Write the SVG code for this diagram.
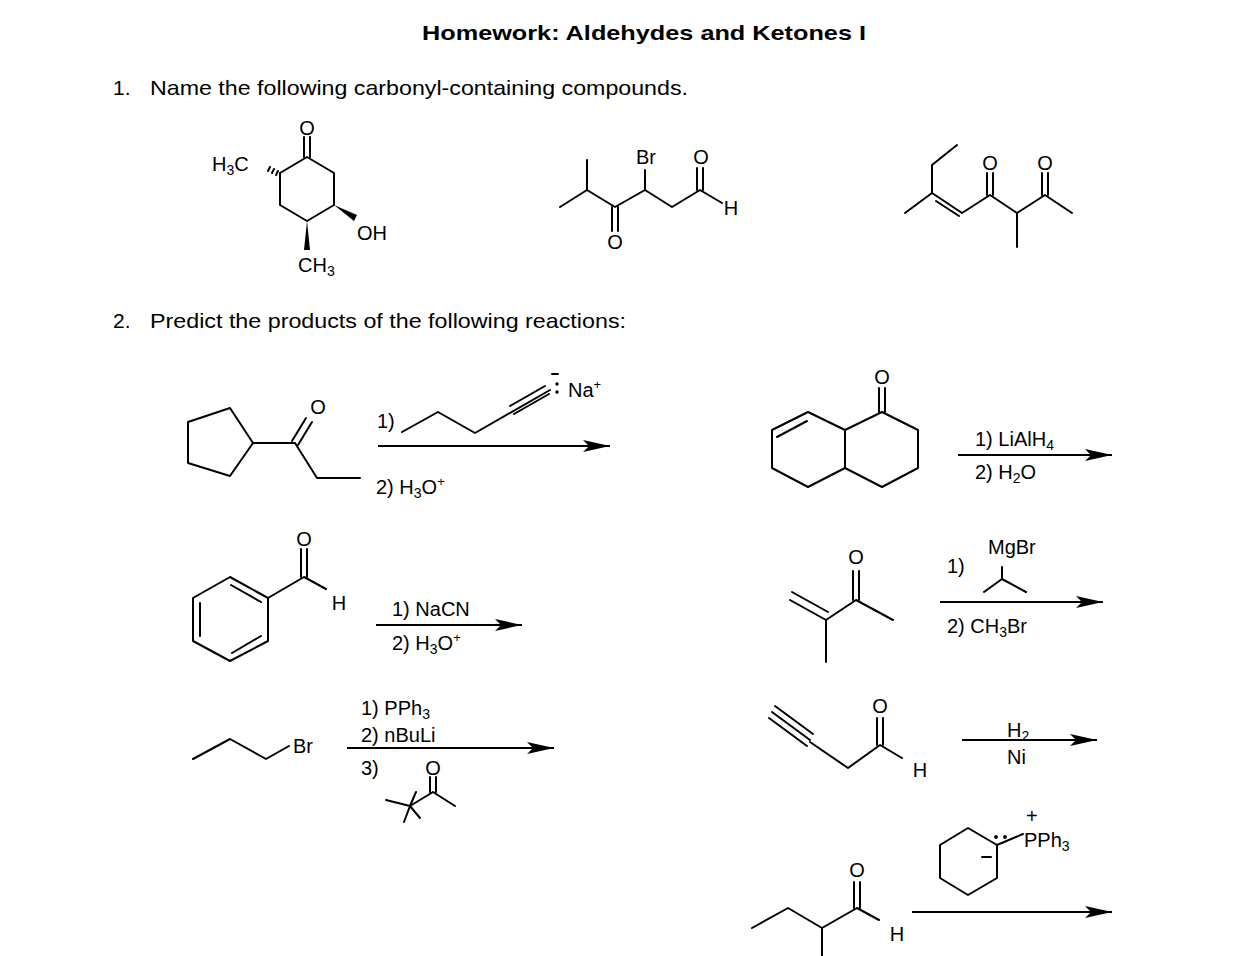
<svg xmlns="http://www.w3.org/2000/svg" width="1257" height="956" viewBox="0 0 1257 956">
<defs>
<marker id="ah" markerWidth="28" markerHeight="12" refX="27" refY="6" orient="auto" markerUnits="userSpaceOnUse"><path d="M0,0 L27,6 L0,12 L6,6 Z" fill="#000"/></marker>
</defs>
<style>
.b{stroke:#000;stroke-width:2;fill:none;stroke-linejoin:round;stroke-linecap:round}
.t{font-family:"Liberation Sans",Arial,sans-serif;font-size:20px;fill:#000}
.h{font-family:"Liberation Sans",Arial,sans-serif;font-size:21px;fill:#000}
.a{stroke:#000;stroke-width:2;fill:none;marker-end:url(#ah)}
</style>
<rect width="1257" height="956" fill="#fff"/>
<text x="422" y="40" class="h" font-weight="bold" font-size="23" textLength="444" lengthAdjust="spacingAndGlyphs">Homework: Aldehydes and Ketones I</text>
<text x="113" y="95" class="h">1.</text>
<text x="150" y="95" class="h" textLength="538" lengthAdjust="spacingAndGlyphs">Name the following carbonyl-containing compounds.</text>
<text x="113" y="328" class="h">2.</text>
<text x="150" y="328" class="h" textLength="476" lengthAdjust="spacingAndGlyphs">Predict the products of the following reactions:</text>

<g id="cmpdA">
<path class="b" d="M307,157 L334,173 L334,205 L307,221 L280,205 L280,173 Z"/>
<path class="b" d="M304,157 V137 M310,157 V137"/>
<text x="307" y="135" text-anchor="middle" class="t">O</text>
<path class="b" d="M278,171 l-2,4 M274,169 l-2,4 M270,167 l-2,4" stroke-width="1.5"/>
<text x="212" y="171" class="t">H<tspan font-size="14" dy="4">3</tspan><tspan dy="-4">C</tspan></text>
<path d="M334,205 L357,215 L354,221 Z" fill="#000"/>
<text x="357" y="240" class="t">OH</text>
<path d="M307,221 L304,250 L310,250 Z" fill="#000"/>
<text x="298" y="272" class="t">CH<tspan font-size="14" dy="4">3</tspan></text>
</g>

<g id="cmpdB">
<path class="b" d="M560,207 L587,190 L615,207 L645,190 L672,207 L700,190 L722,203 M587,190 V160 M645,190 V170"/>
<path class="b" d="M612,207 V231 M618,207 V231 M697,190 V168 M703,190 V168"/>
<text x="615" y="249" text-anchor="middle" class="t">O</text>
<text x="646" y="164" text-anchor="middle" class="t">Br</text>
<text x="701" y="164" text-anchor="middle" class="t">O</text>
<text x="731" y="215" text-anchor="middle" class="t">H</text>
</g>

<g id="cmpdC">
<path class="b" d="M957,145 L932,165 V193 L905,213 M932,193 L962,213 L990,195 L1017,213 L1045,195 L1072,213 M1017,213 V247"/>
<path class="b" d="M936,201 L959,216"/>
<path class="b" d="M987,195 V173 M993,195 V173 M1042,195 V173 M1048,195 V173"/>
<text x="990" y="170" text-anchor="middle" class="t">O</text>
<text x="1045" y="170" text-anchor="middle" class="t">O</text>
</g>

<g id="r1">
<path class="b" d="M230,408 L253,443 L230,476 L188,463 L188,422 Z M253,443 L295,443 L317,478 L360,478"/>
<path class="b" d="M292,441 L306,418 M298,445 L312,422"/>
<text x="318" y="414" text-anchor="middle" class="t">O</text>
<text x="377" y="428" class="t">1)</text>
<path class="b" d="M402,432 L438,412 L475,433 L550,390"/>
<path class="b" d="M510,406 L545,386 M514,414 L549,394"/>
<circle cx="557" cy="384" r="1.7"/><circle cx="557" cy="392" r="1.7"/>
<path class="b" d="M552,374 H558" stroke-width="1.5"/>
<text x="568" y="397" class="t">Na<tspan font-size="13" dy="-8">+</tspan></text>
<text x="376" y="494" class="t">2) H<tspan font-size="14" dy="4">3</tspan><tspan dy="-4">O</tspan><tspan font-size="13" dy="-8">+</tspan></text>
</g>

<g id="r2">
<path class="b" d="M230,577 L268,598 L268,641 L230,661 L193,641 L193,598 Z M268,598 L304,577 L326,589"/>
<path class="b" d="M231,585 L261,602 M200,603 V636 M232,653 L261,636"/>
<path class="b" d="M301,577 V549 M307,577 V549"/>
<text x="304" y="546" text-anchor="middle" class="t">O</text>
<text x="339" y="610" text-anchor="middle" class="t">H</text>
<text x="392" y="616" class="t">1) NaCN</text>
<text x="392" y="650" class="t">2) H<tspan font-size="14" dy="4">3</tspan><tspan dy="-4">O</tspan><tspan font-size="13" dy="-8">+</tspan></text>
</g>

<g id="r3">
<path class="b" d="M193,759 L230,739 L266,759 L289,746"/>
<text x="293" y="753" class="t">Br</text>
<text x="361" y="715" class="t">1) PPh<tspan font-size="14" dy="4">3</tspan></text>
<text x="361" y="742" class="t">2) nBuLi</text>
<text x="361" y="775" class="t">3)</text>
<path class="b" d="M430,792 V777 M436,792 V777 M433,792 L455,806 M433,792 L410,806 M410,806 L386,800 M410,806 L404,822 M410,806 L416,792 M410,806 L420,818"/>
<text x="433" y="775" text-anchor="middle" class="t">O</text>
</g>

<g id="r4">
<path class="b" d="M772,430 L808,412 L845,430 L845,468 L808,487 L772,468 Z M845,430 L882,412 L918,430 L918,468 L882,487 L845,468 M777,437 L807,421"/>
<path class="b" d="M879,412 V388 M885,412 V388"/>
<text x="882" y="384" text-anchor="middle" class="t">O</text>
<text x="975" y="446" class="t">1) LiAlH<tspan font-size="14" dy="4">4</tspan></text>
<text x="975" y="479" class="t">2) H<tspan font-size="14" dy="4">2</tspan><tspan dy="-4">O</tspan></text>
</g>

<g id="r5">
<path class="b" d="M790,600 L826,620 V662 M826,620 L856,600 L893,620 M792,592 L828,612"/>
<path class="b" d="M853,600 V571 M859,600 V571"/>
<text x="856" y="564" text-anchor="middle" class="t">O</text>
<text x="947" y="573" class="t">1)</text>
<text x="988" y="554" class="t">MgBr</text>
<path class="b" d="M1002,567 V579 L984,592 M1002,579 L1026,592"/>
<text x="947" y="633" class="t">2) CH<tspan font-size="14" dy="4">3</tspan><tspan dy="-4">Br</tspan></text>
</g>

<g id="r6">
<path class="b" d="M810,742 L848,768 L880,745 L902,758 M772,712 L810,740 M775,706 L813,734 M769,718 L807,746"/>
<path class="b" d="M877,745 V718 M883,745 V718"/>
<text x="880" y="713" text-anchor="middle" class="t">O</text>
<text x="920" y="777" text-anchor="middle" class="t">H</text>
<text x="1007" y="737" class="t">H<tspan font-size="14" dy="4">2</tspan></text>
<text x="1007" y="764" class="t">Ni</text>
</g>

<g id="r7">
<path class="b" d="M752,928 L788,908 L822,928 V956 M822,928 L857,908 L879,920"/>
<path class="b" d="M854,908 V882 M860,908 V882"/>
<text x="857" y="877" text-anchor="middle" class="t">O</text>
<text x="897" y="941" text-anchor="middle" class="t">H</text>
<path class="b" d="M940,845 L968,828 L997,845 L997,878 L968,895 L940,878 Z M997,845 L1023,834"/>
<circle cx="996" cy="837" r="1.9"/><circle cx="1005" cy="837" r="1.9"/>
<path class="b" d="M982,857 H991" stroke-width="1.5"/>
<text x="1026" y="823" class="t" font-size="15">+</text>
<text x="1024" y="847" class="t">PPh<tspan font-size="14" dy="4">3</tspan></text>
</g>

<g id="connectors">
<line class="a" x1="378" y1="446" x2="610" y2="446"/>
<line class="a" x1="376" y1="625" x2="522" y2="625"/>
<line class="a" x1="347" y1="748" x2="554" y2="748"/>
<line class="a" x1="958" y1="455" x2="1112" y2="455"/>
<line class="a" x1="940" y1="602" x2="1103" y2="602"/>
<line class="a" x1="962" y1="740" x2="1097" y2="740"/>
<line class="a" x1="912" y1="912" x2="1112" y2="912"/>
</g>
</svg>
